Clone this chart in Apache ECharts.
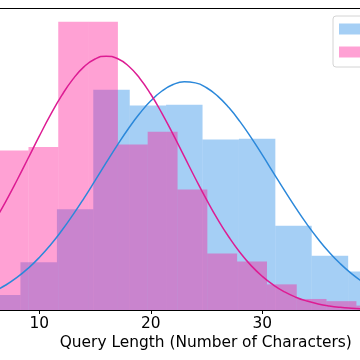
<!DOCTYPE html>
<html>
<head>
<meta charset="utf-8">
<script src="https://cdn.jsdelivr.net/npm/echarts@6/dist/echarts.min.js"></script>
<style>html,body{margin:0;padding:0;background:#fff}#c{width:360px;height:360px}</style>
</head>
<body>
<div id="c"></div>
<script>
// Histogram bin edges (characters) and densities
var blueEdges = [5.05, 8.31, 11.58, 14.84, 18.11, 21.37, 24.64, 27.90, 31.17, 34.43, 37.70, 40.96];
var blueDensity = [0.0034, 0.0108, 0.0228, 0.0499, 0.0463, 0.0465, 0.0386, 0.0388, 0.0191, 0.0123, 0.0087];
var pinkEdges = [6.36, 9.03, 11.70, 14.38, 17.05, 19.72, 22.40, 25.07, 27.74, 30.42, 33.09, 35.76, 38.44, 41.11];
var pinkDensity = [0.0361, 0.0369, 0.0653, 0.0653, 0.0375, 0.0404, 0.0273, 0.0128, 0.0110, 0.0058, 0.0025, 0.0020, 0.0010];
// Fitted curves
var curveX = [6,7,8,9,10,11,12,13,14,15,16,17,18,19,20,21,22,23,24,25,26,27,28,29,30,31,32,33,34,35,36,37,38,39];
var blueCurve = [0.00427,0.00566,0.00737,0.00944,0.01189,0.01473,0.01794,0.02149,0.02529,0.02929,0.03336,0.03735,0.04112,0.04450,0.04738,0.04960,0.05106,0.05168,0.05144,0.05034,0.04844,0.04584,0.04266,0.03903,0.03512,0.03107,0.02703,0.02313,0.01945,0.01609,0.01308,0.01047,0.00824,0.00637];
var pinkCurve = [0.02019,0.02462,0.02939,0.03437,0.03937,0.04417,0.04854,0.05224,0.05507,0.05686,0.05750,0.05695,0.05525,0.05250,0.04886,0.04454,0.03977,0.03478,0.02979,0.02499,0.02053,0.01653,0.01302,0.01005,0.00761,0.00564,0.00409,0.00290,0.00202,0.00138,0.00092,0.00060,0.00039,0.00024];
var tickValues = [10, 20, 30];
var seriesNames = ['Dataset A', 'Dataset B'];
var xLabel = 'Query Length (Number of Characters)';

function histData(edges, dens) {
  var out = [];
  for (var i = 0; i < dens.length; i++) out.push([edges[i], edges[i + 1], dens[i]]);
  return out;
}
function curveData(xs, ys) {
  return xs.map(function (x, i) { return [x, ys[i]]; });
}
function renderBin(params, api) {
  var p0 = api.coord([api.value(0), api.value(2)]);
  var p1 = api.coord([api.value(1), 0]);
  return {
    type: 'rect',
    shape: { x: p0[0], y: p0[1], width: p1[0] - p0[0], height: p1[1] - p0[1] },
    style: { fill: api.visual('color'), opacity: 0.4 }
  };
}
var FONT = 'DejaVu Sans';
var xMin = 6.4753, xMax = 38.762;
var chart = echarts.init(document.getElementById('c'), null, { renderer: 'canvas' });
chart.setOption({
  animation: false,
  backgroundColor: '#fff',
  grid: { left: 0, right: 0, top: 8, bottom: 50 },
  xAxis: [{
    type: 'value', min: xMin, max: xMax, position: 'bottom',
    axisLine: { show: true, onZero: false, lineStyle: { color: '#000', width: 1 } },
    axisTick: { show: true, length: 4, customValues: tickValues, lineStyle: { color: '#000' } },
    axisLabel: { show: true, customValues: tickValues, margin: 6, color: '#000', fontSize: 15.4, fontFamily: FONT },
    splitLine: { show: false }
  }, {
    type: 'value', min: xMin, max: xMax, position: 'top',
    axisLine: { show: true, onZero: false, lineStyle: { color: '#000', width: 1 } },
    axisTick: { show: false }, axisLabel: { show: false }, splitLine: { show: false }
  }],
  yAxis: { type: 'value', min: 0, max: 0.0684, show: false, splitLine: { show: false } },
  legend: {
    orient: 'vertical', left: 333, top: 16, padding: [6, 6, 8, 6],
    itemWidth: 30, itemHeight: 11, itemGap: 9,
    borderColor: '#d4d4d4', borderWidth: 1, borderRadius: 3, backgroundColor: 'rgba(255,255,255,0.85)',
    textStyle: { fontSize: 14, fontFamily: FONT, color: '#000', lineHeight: 11 },
    data: [
      { name: seriesNames[0], icon: 'rect', itemStyle: { color: '#A5CFF5', opacity: 1 } },
      { name: seriesNames[1], icon: 'rect', itemStyle: { color: '#FFA1D4', opacity: 1 } }
    ]
  },
  series: [
    { name: seriesNames[0], type: 'custom', renderItem: renderBin, clip: true, color: '#1E88E5',
      encode: { x: [0, 1], y: 2 }, data: histData(blueEdges, blueDensity) },
    { name: seriesNames[1], type: 'custom', renderItem: renderBin, clip: true, color: '#FF1493',
      encode: { x: [0, 1], y: 2 }, data: histData(pinkEdges, pinkDensity) },
    { name: 'fit A', type: 'line', smooth: true, showSymbol: false, clip: true,
      lineStyle: { color: '#2B88DA', width: 1.5 }, itemStyle: { color: '#2B88DA' },
      data: curveData(curveX, blueCurve), z: 5 },
    { name: 'fit B', type: 'line', smooth: true, showSymbol: false, clip: true,
      lineStyle: { color: '#DD1C93', width: 1.5 }, itemStyle: { color: '#DD1C93' },
      data: curveData(curveX, pinkCurve), z: 5 }
  ],
  graphic: [{
    type: 'text', x: 205.8, y: 343,
    style: { text: xLabel, fill: '#000', font: '15.4px "DejaVu Sans"', textAlign: 'center', textVerticalAlign: 'middle' }
  }]
});
</script>
</body>
</html>
